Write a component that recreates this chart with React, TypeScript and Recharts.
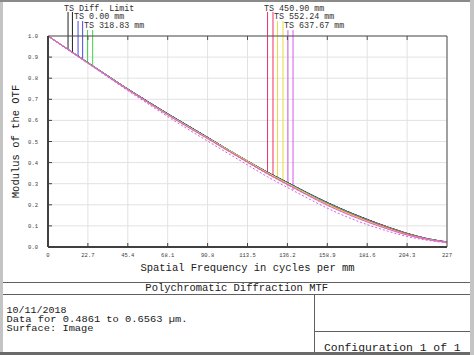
import { LineChart, Line, XAxis, YAxis, CartesianGrid, ReferenceLine } from "recharts";

// spatial frequency samples, cycles per mm
const freq = [
  0, 11.35, 22.7, 34.05, 45.4, 56.75, 68.1, 79.45, 90.8, 102.15, 113.5,
  124.85, 136.2, 147.55, 158.9, 170.25, 181.6, 192.95, 204.3, 215.65, 227,
];

const xTicks = [0, 22.7, 45.4, 68.1, 90.8, 113.5, 136.2, 158.9, 181.6, 204.3, 227];
const xTickLabels = ["0", "22.7", "45.4", "68.1", "90.8", "113.5", "136.2", "158.9", "181.6", "204.3", "227"];
const yTicks = [0, 0.1, 0.2, 0.3, 0.4, 0.5, 0.6, 0.7, 0.8, 0.9, 1.0];

// MTF per field, tangential (T) and sagittal (S)
const diffT = [1.0, 0.937, 0.874, 0.811, 0.749, 0.69, 0.632, 0.576, 0.52, 0.463, 0.408, 0.355, 0.306, 0.257, 0.211, 0.169, 0.131, 0.096, 0.065, 0.04, 0.024];
const diffS = [1.0, 0.937, 0.874, 0.811, 0.749, 0.69, 0.632, 0.576, 0.52, 0.463, 0.408, 0.355, 0.306, 0.257, 0.211, 0.169, 0.131, 0.096, 0.065, 0.04, 0.024];
const f000T = [1.0, 0.937, 0.874, 0.811, 0.749, 0.689, 0.631, 0.575, 0.519, 0.462, 0.407, 0.354, 0.305, 0.256, 0.21, 0.168, 0.13, 0.095, 0.064, 0.04, 0.024];
const f000S = [1.0, 0.937, 0.873, 0.81, 0.748, 0.689, 0.63, 0.574, 0.518, 0.461, 0.406, 0.353, 0.304, 0.255, 0.209, 0.167, 0.129, 0.095, 0.064, 0.039, 0.024];
const f318T = [1.0, 0.937, 0.873, 0.81, 0.748, 0.688, 0.63, 0.573, 0.517, 0.461, 0.405, 0.352, 0.303, 0.254, 0.208, 0.166, 0.128, 0.094, 0.063, 0.039, 0.023];
const f318S = [1.0, 0.936, 0.873, 0.809, 0.747, 0.687, 0.629, 0.572, 0.516, 0.459, 0.404, 0.35, 0.301, 0.252, 0.206, 0.165, 0.127, 0.093, 0.063, 0.039, 0.023];
const f450T = [1.0, 0.936, 0.872, 0.809, 0.747, 0.687, 0.628, 0.571, 0.515, 0.458, 0.403, 0.349, 0.3, 0.251, 0.205, 0.163, 0.126, 0.092, 0.062, 0.038, 0.023];
const f450S = [1.0, 0.936, 0.872, 0.808, 0.746, 0.686, 0.627, 0.57, 0.514, 0.457, 0.401, 0.347, 0.298, 0.249, 0.203, 0.162, 0.125, 0.091, 0.061, 0.038, 0.023];
const f552T = [1.0, 0.936, 0.872, 0.809, 0.746, 0.686, 0.628, 0.572, 0.517, 0.462, 0.407, 0.352, 0.301, 0.251, 0.203, 0.161, 0.123, 0.089, 0.059, 0.037, 0.022];
const f552S = [1.0, 0.936, 0.871, 0.807, 0.744, 0.683, 0.624, 0.567, 0.511, 0.455, 0.4, 0.345, 0.294, 0.244, 0.197, 0.155, 0.118, 0.085, 0.056, 0.035, 0.021];
const f637T = [1.0, 0.936, 0.872, 0.808, 0.745, 0.685, 0.626, 0.569, 0.514, 0.458, 0.402, 0.347, 0.296, 0.246, 0.198, 0.156, 0.119, 0.086, 0.057, 0.036, 0.022];
const f637S = [1.0, 0.935, 0.87, 0.805, 0.741, 0.679, 0.618, 0.559, 0.502, 0.445, 0.389, 0.333, 0.282, 0.232, 0.184, 0.142, 0.106, 0.076, 0.05, 0.032, 0.02];

const series = [
  { key: "diffT", values: diffT, color: "#202020", dash: undefined },
  { key: "diffS", values: diffS, color: "#202020", dash: "2 2" },
  { key: "f000T", values: f000T, color: "#4a4ae6", dash: undefined },
  { key: "f000S", values: f000S, color: "#4a4ae6", dash: "2 2" },
  { key: "f318T", values: f318T, color: "#3ed43e", dash: undefined },
  { key: "f318S", values: f318S, color: "#3ed43e", dash: "2 2" },
  { key: "f450T", values: f450T, color: "#f0306a", dash: undefined },
  { key: "f450S", values: f450S, color: "#f0306a", dash: "2 2" },
  { key: "f552T", values: f552T, color: "#e4dc3c", dash: undefined },
  { key: "f552S", values: f552S, color: "#e4dc3c", dash: "2 2" },
  { key: "f637T", values: f637T, color: "#d858ee", dash: undefined },
  { key: "f637S", values: f637S, color: "#d858ee", dash: "2 2" },
];

// legend markers: frequency, curve value at the foot, value at the top
const legendFreq = [11.4, 13.9, 17.1, 19.7, 22.5, 25.4, 124.9, 128.0, 130.6, 133.7, 136.5, 139.4];
const legendFoot = [0.937, 0.923, 0.904, 0.889, 0.875, 0.859, 0.352, 0.337, 0.322, 0.304, 0.287, 0.27];
const legendTop = [1.114, 1.114, 1.071, 1.071, 1.028, 1.028, 1.114, 1.114, 1.071, 1.071, 1.028, 1.028];
const legendColor = ["#202020", "#202020", "#4a4ae6", "#4a4ae6", "#3ed43e", "#3ed43e", "#f0306a", "#f0306a", "#e4dc3c", "#e4dc3c", "#d858ee", "#d858ee"];
const legendLabels = ["TS Diff. Limit", "TS 0.00 mm", "TS 318.83 mm", "TS 450.90 mm", "TS 552.24 mm", "TS 637.67 mm"];

const data = freq.map((f, i) => {
  const row: any = { f };
  series.forEach((s) => (row[s.key] = s.values[i]));
  return row;
});

const mono = "'Liberation Mono', 'DejaVu Sans Mono', monospace";
const tickStyle = { fontSize: 5.5, fontFamily: mono, fill: "#404040" };

const BottomTick = ({ x, y, index }: any) => (
  <g>
    {index > 0 && index < xTicks.length - 1 && <line x1={x} y1={y} x2={x} y2={y - 4} stroke="#404040" />}
    <text x={x} y={y + 10} textAnchor="middle" {...tickStyle}>{xTickLabels[index]}</text>
  </g>
);

const LeftTick = ({ x, y, payload, index }: any) => (
  <g>
    {index > 0 && index < yTicks.length - 1 && <line x1={x} y1={y} x2={x + 4} y2={y} stroke="#404040" />}
    <text x={x - 10} y={y + 2} textAnchor="end" {...tickStyle}>{payload.value.toFixed(1)}</text>
  </g>
);

const TopTick = ({ x, y, index }: any) =>
  index > 0 && index < xTicks.length - 1 ? <line x1={x} y1={y} x2={x} y2={y + 4} stroke="#505050" /> : <g />;

const RightTick = ({ x, y, index }: any) =>
  index > 0 && index < yTicks.length - 1 ? <line x1={x} y1={y} x2={x - 4} y2={y} stroke="#505050" /> : <g />;

export default function App() {
  const line = "#606060";
  return (
    <div style={{ position: "absolute", left: 0, top: 0, width: 474, height: 355, background: "#fff", overflow: "hidden" }}>
      <LineChart width={474} height={355} data={data} margin={{ top: 35, right: 26, bottom: 107, left: 47 }}>
        <CartesianGrid stroke="#e2e2e2" strokeWidth={1} />
        <XAxis
          dataKey="f"
          type="number"
          domain={[0, 227]}
          ticks={xTicks}
          interval={0}
          height={1}
          tickSize={0}
          tickMargin={0}
          tickLine={false}
          axisLine={{ stroke: "#404040", strokeWidth: 2 }}
          tick={<BottomTick />}
        />
        <XAxis
          xAxisId="top"
          orientation="top"
          dataKey="f"
          type="number"
          domain={[0, 227]}
          ticks={xTicks}
          interval={0}
          height={1}
          tickSize={0}
          tickMargin={0}
          tickLine={false}
          axisLine={{ stroke: "#505050" }}
          tick={<TopTick />}
        />
        <YAxis
          type="number"
          domain={[0, 1]}
          ticks={yTicks}
          interval={0}
          width={1}
          tickSize={0}
          tickMargin={0}
          tickLine={false}
          axisLine={{ stroke: "#404040", strokeWidth: 2 }}
          tick={<LeftTick />}
          allowDataOverflow
        />
        <YAxis
          yAxisId="right"
          orientation="right"
          type="number"
          domain={[0, 1]}
          ticks={yTicks}
          interval={0}
          width={1}
          tickSize={0}
          tickMargin={0}
          tickLine={false}
          axisLine={{ stroke: "#505050" }}
          tick={<RightTick />}
        />
        {legendFreq.map((f, i) => (
          <ReferenceLine
            key={"lg" + i}
            segment={[{ x: f, y: legendFoot[i] }, { x: f, y: legendTop[i] }]}
            stroke={legendColor[i]}
            strokeWidth={1}
            ifOverflow="visible"
          />
        ))}
        {series.map((s) => (
          <Line
            key={s.key}
            dataKey={s.key}
            type="monotone"
            stroke={s.color}
            strokeWidth={1}
            strokeDasharray={s.dash}
            dot={false}
            activeDot={false}
            isAnimationActive={false}
          />
        ))}
      </LineChart>
      <svg width={474} height={355} style={{ position: "absolute", left: 0, top: 0, pointerEvents: "none" }}>
        <g fontFamily={mono} fill="#303030" fontSize={8.4}>
          <text x={64} y={10.5}>{legendLabels[0]}</text>
          <text x={74} y={19}>{legendLabels[1]}</text>
          <text x={84} y={28}>{legendLabels[2]}</text>
          <text x={264} y={10.5}>{legendLabels[3]}</text>
          <text x={274} y={19}>{legendLabels[4]}</text>
          <text x={284} y={28}>{legendLabels[5]}</text>
        </g>
        <g fontFamily={mono} fill="#202020" fontSize={10.5}>
          <text x={247.5} y={271} textAnchor="middle">Spatial Frequency in cycles per mm</text>
          <text transform="translate(18.5,141.5) rotate(-90)" textAnchor="middle">Modulus of the OTF</text>
          <text x={236.7} y={291} textAnchor="middle">Polychromatic Diffraction MTF</text>
          <text x={324} y={350.5} fontSize={11.4}>Configuration 1 of 1</text>
        </g>
        <g fontFamily={mono} fill="#202020" fontSize={8.4}>
          <text x={6.5} y={312.5} textLength={60} lengthAdjust="spacingAndGlyphs">10/11/2018</text>
          <text x={6.5} y={321.5} textLength={181} lengthAdjust="spacingAndGlyphs">Data for 0.4861 to 0.6563 µm.</text>
          <text x={6.5} y={330.5} textLength={87} lengthAdjust="spacingAndGlyphs">Surface: Image</text>
        </g>
        <rect x={0} y={0} width={3} height={355} fill="#c4c4c4" />
        <rect x={0} y={0} width={474} height={2} fill="#8a8a8a" />
        <rect x={0} y={352} width={474} height={3} fill="#6a6a6a" />
        <rect x={470} y={0} width={4} height={355} fill="#c4c4c4" />
        <line x1={3} y1={282.5} x2={470} y2={282.5} stroke={line} />
        <line x1={3} y1={294.5} x2={470} y2={294.5} stroke={line} />
        <line x1={314.5} y1={294.5} x2={314.5} y2={352} stroke={line} />
        <line x1={314.5} y1={331.5} x2={470} y2={331.5} stroke={line} />
      </svg>
    </div>
  );
}
